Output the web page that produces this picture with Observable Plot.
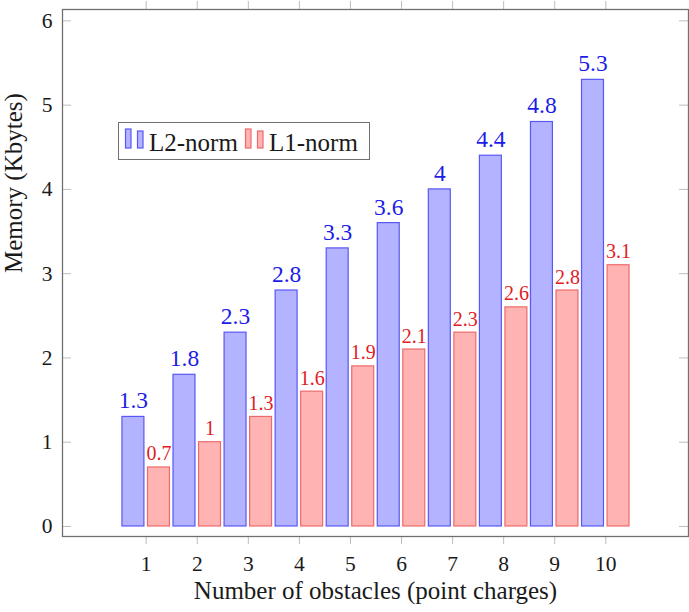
<!DOCTYPE html>
<html>
<head>
<meta charset="utf-8">
<script src="https://cdn.jsdelivr.net/npm/d3@7"></script>
<script src="https://cdn.jsdelivr.net/npm/@observablehq/plot@0.6"></script>
<style>
  html, body { margin: 0; padding: 0; background: #fff; }
  #wrap { position: relative; width: 689px; height: 612px; font-family: "Liberation Serif", "DejaVu Serif", serif; }
  #legend { position: absolute; left: 118px; top: 122px; width: 252px; height: 38px; box-sizing: border-box;
            border: 1.3px solid #707070; background: #fff; }
  #legend svg { position: absolute; left: 0; top: 0; }
</style>
</head>
<body>
<div id="wrap"></div>
<script>
const obstacles = [1, 2, 3, 4, 5, 6, 7, 8, 9, 10];
const l2Norm = [1.3, 1.8, 2.3, 2.8, 3.3, 3.6, 4, 4.4, 4.8, 5.3];
const l1Norm = [0.7, 1, 1.3, 1.6, 1.9, 2.1, 2.3, 2.6, 2.8, 3.1];
const xTicks = [1, 2, 3, 4, 5, 6, 7, 8, 9, 10];
const yTicks = [0, 1, 2, 3, 4, 5, 6];
const seriesNames = ["L2-norm", "L1-norm"];
const xLabel = "Number of obstacles (point charges)";
const yLabel = "Memory (Kbytes)";

const blueFill = "#b3b3ff", blueStroke = "#5858f4", blueText = "#1c1ce6";
const redFill = "#ffb3b3", redStroke = "#ee6a6a", redText = "#e01c24";
const tickColor = "#bdbdbd", textColor = "#1a1a1a";

const rows = obstacles.map((n, i) => ({n, l2: l2Norm[i], l1: l1Norm[i]}));

const chart = Plot.plot({
  width: 689,
  height: 612,
  marginLeft: 62,
  marginRight: 1,
  marginTop: 9,
  marginBottom: 76,
  x: {domain: [-0.639, 11.62], axis: null},
  y: {domain: [-0.119, 6.135], axis: null},
  style: {fontFamily: "'Liberation Serif', serif", fontSize: "21px", background: "#fff", color: textColor},
  marks: [
    Plot.rectY(rows, {x1: d => d.n - 0.465, x2: d => d.n - 0.035, y1: 0, y2: "l2", fill: blueFill, stroke: blueStroke, strokeWidth: 1.2}),
    Plot.rectY(rows, {x1: d => d.n + 0.035, x2: d => d.n + 0.465, y1: 0, y2: "l1", fill: redFill, stroke: redStroke, strokeWidth: 1.2}),
    Plot.text(rows, {x: d => d.n - 0.25, y: "l2", text: d => String(d.l2), dy: -8.5, lineAnchor: "bottom", fill: blueText, fontSize: 23.5}),
    Plot.text(rows, {x: d => d.n + 0.25, y: "l1", text: d => String(d.l1), dy: -7, lineAnchor: "bottom", fill: redText, fontSize: 20, letterSpacing: "-0.8px"}),
    Plot.tickY(yTicks, {y: d => d, stroke: tickColor, insetRight: 617}),
    Plot.tickY(yTicks, {y: d => d, stroke: tickColor, insetLeft: 617}),
    Plot.axisY(yTicks, {anchor: "left", tickSize: 0, tickPadding: 10, tickFormat: d => String(d), fill: textColor, fontSize: 21.5, label: null}),
    Plot.axisX(xTicks, {anchor: "bottom", tickSize: 8, tickPadding: 11, tickFormat: d => String(d), stroke: tickColor, fill: textColor, fontSize: 21.5, label: null}),
    Plot.axisX(xTicks, {anchor: "top", tickSize: 9, stroke: tickColor, tickFormat: () => "", label: null}),
    Plot.frame({stroke: "#707070", strokeWidth: 1.3}),
    Plot.text([xLabel], {frameAnchor: "bottom", text: d => d, dy: 62, lineAnchor: "bottom", fontSize: 25, fill: textColor}),
    Plot.text([yLabel], {frameAnchor: "left", text: d => d, rotate: -90, dx: -41, lineAnchor: "bottom", fontSize: 25, fill: textColor})
  ]
});

const wrap = document.getElementById("wrap");
wrap.appendChild(chart);

// legend (inside the plot area, as in the reference)
const legend = document.createElement("div");
legend.id = "legend";
wrap.appendChild(legend);
const lg = d3.select(legend).append("svg").attr("width", 252).attr("height", 38);
const legendItems = [
  {name: seriesNames[0], fill: blueFill, stroke: blueStroke, x: 6},
  {name: seriesNames[1], fill: redFill, stroke: redStroke, x: 126}
];
for (const it of legendItems) {
  lg.append("rect").attr("x", it.x + 0.5).attr("y", 6).attr("width", 5.5).attr("height", 19)
    .attr("fill", it.fill).attr("stroke", it.stroke).attr("stroke-width", 1.2);
  lg.append("rect").attr("x", it.x + 12.5).attr("y", 8).attr("width", 5.5).attr("height", 17)
    .attr("fill", it.fill).attr("stroke", it.stroke).attr("stroke-width", 1.2);
  lg.append("text").attr("x", it.x + 24).attr("y", 28)
    .attr("font-family", "'Liberation Serif', serif").attr("font-size", 25).attr("fill", textColor)
    .text(it.name);
}
</script>
</body>
</html>
